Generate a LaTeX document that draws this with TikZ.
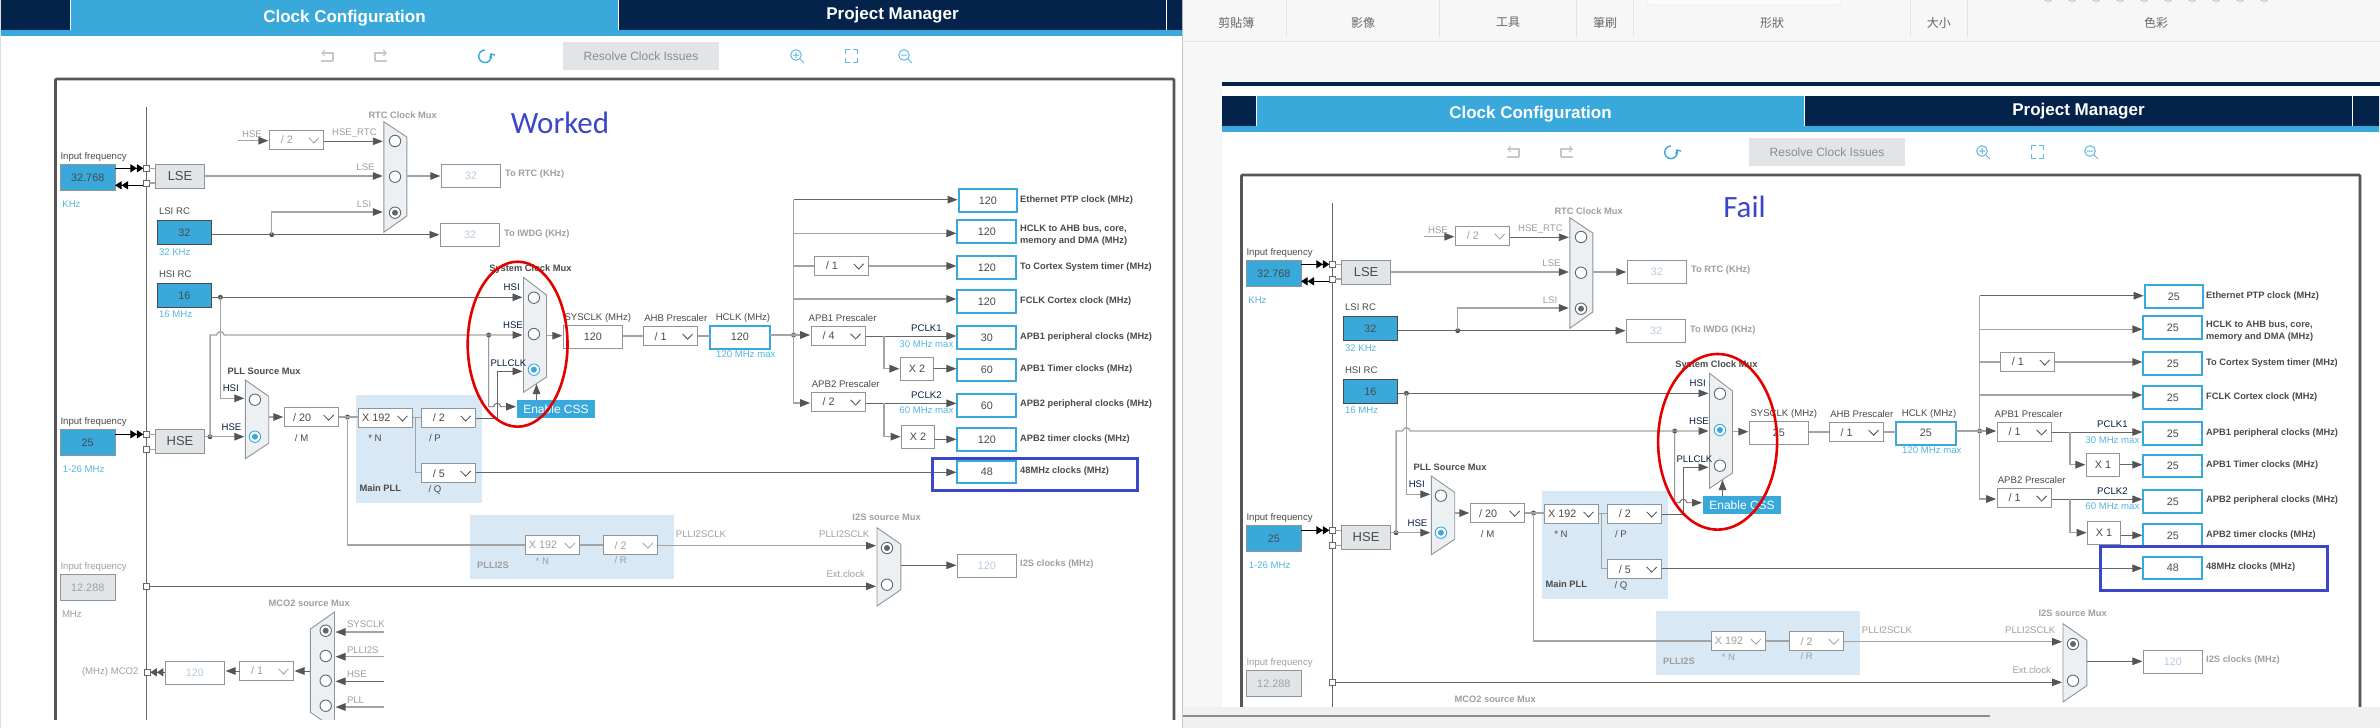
\documentclass[tikz,border=0pt]{standalone}
\usepackage{fontspec}
\setmainfont{Liberation Sans}
\newfontfamily\cjk{Noto Sans CJK TC}
\newfontfamily\carl{Carlito}
\usetikzlibrary{arrows.meta}
\definecolor{cB}{HTML}{39A9DB}
\definecolor{cN}{HTML}{03234B}
\definecolor{cW}{HTML}{666666}
\definecolor{cG}{HTML}{A3A3A3}
\definecolor{cA}{HTML}{555555}
\definecolor{cD}{HTML}{4A4A4A}
\definecolor{cT}{HTML}{9F9F9F}
\definecolor{cL}{HTML}{B5CCE0}
\definecolor{cQ}{HTML}{3B46C8}
\definecolor{cPl}{HTML}{D9E8F5}
\definecolor{cMx}{HTML}{ECF0F2}
\definecolor{cBr}{HTML}{8D9599}
\definecolor{cGb}{HTML}{E2E5E7}
\newcommand\fz[1]{\fontsize{#1}{#1}\selectfont}
\newif\ifmcoshown
\tikzset{
  every node/.style={inner sep=0pt,outer sep=0pt,font=\fz{9.6}},
  wire/.style={draw=cW,line width=0.9pt},
  wireg/.style={draw=cG,line width=1.3pt},
  arr/.style={wire,shorten >=1pt,-{Triangle[length=10pt,width=7.5pt,color=cA]}},
  arrg/.style={wireg,shorten >=1pt,-{Triangle[length=10pt,width=7.5pt,color=cA]}},
  dblk/.style={draw=black,line width=1pt,-{Triangle[length=6.5pt,width=8pt,color=black]Triangle[length=6.5pt,width=8pt,color=black]}},
  dbgr/.style={draw=cA,line width=1pt,-{Triangle[length=6.5pt,width=8pt,color=cA]Triangle[length=6.5pt,width=8pt,color=cA]}},
  lL/.style={anchor=west},
  dk/.style={text=cD},
  nv/.style={text=cN!85!black},
  gy/.style={text=cT},
  bl/.style={text=cB!85!white},
  bd/.style={font=\fz{9.3}\bfseries},
  bxg/.style={draw=cBr,fill=white,line width=0.9pt,font=\fz{10.8}},
  bxv/.style={draw=cB,fill=white,line width=2pt,font=\fz{10.8},text=cD},
  bxo/.style={draw=cBr,fill=white,line width=0.9pt,font=\fz{10.8},text=cL},
  bxin/.style={draw=#1,fill=cB,line width=1pt,font=\fz{10.8},text=cD},
  dotj/.style={circle,fill=cA,minimum size=5pt},
  sqp/.style={draw=cW,fill=white,line width=0.8pt,minimum size=6pt},
  rsel/.style={circle,draw=#1,fill=white,line width=0.9pt,minimum size=11.4pt}
}
\newcount\lblc
\newcommand\lbl[4]{\global\advance\lblc by 1 \node[#1] (lbl\the\lblc) at (#2,#3) {#4};}
\newcommand\bx[7]{\node[#1,minimum width={(#5-#3)*1pt},minimum height={(#6-#4)*1pt}] (#2) at ({(#3+#5)/2},{(#4+#6)/2}) {#7};}
% dropdown: text colour, name, x1,y1,x2,y2, text offset, text
\newcommand\dd[8]{\bx{bxg}{#2}{#3}{#4}{#5}{#6}{}
  \node[anchor=west,font=\fz{10.8},text=#1] (#2T) at ([xshift=#7]#2.west) {#8};
  \draw[draw=#1,line width=0.8pt] ([xshift=-15,yshift=2.2]#2.east) -- ([xshift=-10,yshift=-3]#2.east) -- ([xshift=-5,yshift=2.2]#2.east);}
\newcommand\hw[4][wire]{\draw[#1] (#2.east |- 0,#4) -- (#3.west |- 0,#4);}
% mux: name, xl, xr, y left top, y right top, y right bottom, y left bottom
\newcommand\muxn[7]{\node[minimum width={(#3-#2)*1pt},minimum height={(#7-#4)*1pt}] (#1) at ({(#2+#3)/2},{(#4+#7)/2}) {};
  \draw[draw=cBr,fill=cMx,line width=0.9pt] (#2,#4) -- (#3,#5) -- (#3,#6) -- (#2,#7) -- cycle;}
% radio: name,x,y,state
\newcommand\radio[4]{\ifnum#4=2
    \node[rsel=cB] (#1) at (#2,#3) {}; \fill[cB] (#1.center) circle (3);
  \else\ifnum#4=1
    \node[rsel=cW] (#1) at (#2,#3) {}; \fill[cW] (#1.center) circle (3);
  \else
    \node[rsel=cW] (#1) at (#2,#3) {};
  \fi\fi}
\newcommand\clockpanel[4]{%
\begin{scope}[shift={(\panx,\pany)}]
\clip (#2,0) rectangle (#3,#4);
% header
\bx{fill=cB}{#1strip}{1}{30}{1200}{36}{}
\bx{fill=cN}{#1navL}{1}{0}{70}{30}{}
\bx{fill=cB,text=white,font=\fz{17}\bfseries}{#1tabC}{71}{0}{618}{36}{\raisebox{3pt}{Clock Configuration}}
\bx{fill=cN,text=white,font=\fz{17}\bfseries}{#1tabP}{619}{0}{1166}{30}{\raisebox{-2pt}{Project Manager}}
\bx{fill=cN}{#1navR}{1167}{0}{1200}{30}{}
% toolbar
\draw[draw=black!22,line width=1.2pt,-{Straight Barb[length=3pt,width=6pt]}] (333,61) -- (333,53) -- (321,53);
\draw[draw=black!22,line width=1.2pt] (321,61) -- (333,61);
\draw[draw=black!22,line width=1.2pt,-{Straight Barb[length=3pt,width=6pt]}] (375,61) -- (375,53) -- (387,53);
\draw[draw=black!22,line width=1.2pt] (375,61) -- (387,61);
\draw[draw=cB,line width=1.4pt,-{Straight Barb[length=3pt,width=6pt]}] (485,50) arc (-90:-390:6.3);
\bx{fill=cGb,text=black!45,font=\fz{12}}{#1res}{563}{42}{719}{70}{Resolve Clock Issues}
\draw[draw=cB!80,line width=1pt] (796,55) circle (5.3) (800,59) -- (804,63) (793,55) -- (799,55) (796,52) -- (796,58);
\draw[draw=cB!80,line width=1pt] (850,49.5) -| (845,54) (853,49.5) -| (857,54) (845,58) |- (850,62.5) (857,58) |- (853,62.5);
\draw[draw=cB!80,line width=1pt] (904,55) circle (5.3) (908,59) -- (912,63) (901,55) -- (907,55);
% frame and bus
\draw[draw=cA,line width=2.6pt,rounded corners=1pt] (55.5,730) -- (55.5,79) -- (1174,79) -- (1174,730);
\coordinate (#1busT) at (146.3,107);
\coordinate (#1busB) at (146.3,730);
\draw[draw=cW,line width=0.8pt] (#1busT) -- (#1busB);
% PLL backgrounds
\bx{fill=cPl}{#1bgM}{356}{395}{482.2}{502.7}{}
\bx{fill=cPl}{#1bgI}{470}{515}{673.5}{579}{}
% inputs
\lbl{lL,dk}{60.5}{157}{Input frequency}
\bx{bxin=cBr}{#1in1}{60.5}{164}{115}{190.7}{32.768}
\lbl{lL,bl}{62.4}{203.7}{KHz}
\node[sqp] (#1sqa) at (146.4,168.3) {};
\node[sqp] (#1sqb) at (146.4,183) {};
\bx{draw=cBr,fill=cGb,line width=0.9pt,font=\fz{13},text=cD}{#1lse}{155.4}{164.3}{204.7}{188.3}{LSE}
\lbl{lL,dk}{159}{210.7}{LSI RC}
\bx{bxin=cD}{#1lsi}{157.3}{220.3}{211.6}{244.7}{32}
\lbl{lL,bl}{159}{251.7}{32 KHz}
\lbl{lL,dk}{159}{273.7}{HSI RC}
\bx{bxin=cD}{#1hsi}{157.3}{283.3}{211.6}{307.7}{16}
\lbl{lL,bl}{159}{313.7}{16 MHz}
\lbl{lL,dk}{60.5}{421.7}{Input frequency}
\bx{bxin=cBr}{#1in2}{60.5}{429.3}{115}{455.7}{25}
\lbl{lL,bl}{62.8}{468.7}{1-26 MHz}
\node[sqp] (#1sqc) at (146.4,434.3) {};
\node[sqp] (#1sqd) at (146.4,449.3) {};
\bx{draw=cBr,fill=cGb,line width=0.9pt,font=\fz{13},text=cD}{#1hse}{155.4}{429.3}{204.7}{453.3}{HSE}
\lbl{lL,gy}{60.5}{566.7}{Input frequency}
\bx{draw=cBr,fill=cGb,line width=0.9pt,font=\fz{10.8},text=cT}{#1in3}{60.5}{574.3}{115}{600.3}{12.288}
\node[sqp] (#1sqe) at (146.4,586.3) {};
% RTC mux
\lbl{gy,font=\fz{9.3}\bfseries}{402.6}{114.7}{RTC Clock Mux}
\muxn{#1rtc}{383.8}{406.8}{121.7}{137}{216}{232.3}
\radio{#1r1}{395}{141}{0}\radio{#1r2}{395}{176.7}{0}\radio{#1r3}{395}{212.7}{1}
\lbl{gy}{252}{133.7}{HSE}
\dd{cT}{#1d2}{269.4}{130.3}{323.8}{149.7}{11.5}{/ 2}
\lbl{gy}{354.4}{132.7}{HSE\_RTC}
\lbl{gy}{365.5}{167.3}{LSE}
\lbl{gy}{364}{204.3}{LSI}
\bx{bxo}{#1trtc}{441.3}{164.3}{500.6}{187.7}{32}
\lbl{lL,gy,font=\fz{9.3}\bfseries}{505}{173.7}{To RTC (KHz)}
\bx{bxo}{#1tiw}{440.5}{223.3}{499.8}{246.7}{32}
\lbl{lL,gy,font=\fz{9.3}\bfseries}{504}{233.7}{To IWDG (KHz)}
\node[dotj] (#1jl) at (271.7,234.7) {};
% system mux
\lbl{dk,font=\fz{9.3}\bfseries}{530.4}{268.7}{System Clock Mux}
\muxn{#1sys}{523.5}{546.5}{277.3}{295}{377}{392.3}
\radio{#1s1}{533.9}{297.7}{0}\radio{#1s2}{533.9}{334}{\sB}\radio{#1s3}{533.9}{369.7}{\sC}
\lbl{nv}{511.7}{287.3}{HSI}
\lbl{nv}{513}{324.7}{HSE}
\lbl{lL,nv}{490.5}{362.7}{PLLCLK}
\bx{fill=cB,text=white,font=\fz{12}}{#1css}{517}{400}{595}{417.7}{Enable CSS}
% PLL source mux
\lbl{dk,font=\fz{9.3}\bfseries}{264}{371.7}{PLL Source Mux}
\muxn{#1pll}{245.3}{268.7}{380}{396.3}{443.3}{458.7}
\radio{#1p1}{254.9}{399.7}{0}\radio{#1p2}{254.9}{436.7}{2}
\lbl{nv}{230.8}{388.3}{HSI}
\lbl{nv}{231.5}{427.3}{HSE}
\dd{cD}{#1d20}{284.3}{407.7}{338.7}{426.7}{8.8}{/ 20}
\lbl{dk}{301.6}{437.7}{/ M}
% main PLL
\dd{cD}{#1n}{358.6}{408.3}{412.5}{427.7}{3.5}{X 192}
\dd{cD}{#1dp}{421.4}{408.3}{475.7}{427.7}{11.5}{/ 2}
\dd{cD}{#1dq}{421.4}{463.7}{475.7}{482.7}{11.5}{/ 5}
\lbl{dk}{375}{437.7}{* N}
\lbl{dk}{435}{437.7}{/ P}
\lbl{dk}{435}{490.3}{/ Q}
\lbl{lL,dk,font=\fz{9.3}\bfseries}{359.7}{487.7}{Main PLL}
% PLLI2S
\dd{cT}{#1in}{525.4}{535.7}{579.8}{554.7}{3.5}{X 192}
\dd{cT}{#1ir}{603}{535.7}{657.8}{554.7}{11.5}{/ 2}
\lbl{gy}{542.3}{560.7}{* N}
\lbl{gy}{620.7}{559.7}{/ R}
\lbl{lL,gy,font=\fz{9.3}\bfseries}{477.2}{565.3}{PLLI2S}
\lbl{gy}{701}{534.3}{PLLI2SCLK}
\lbl{gy}{844.2}{534.3}{PLLI2SCLK}
\lbl{gy}{845.7}{573.7}{Ext.clock}
% I2S mux
\lbl{gy,font=\fz{9.3}\bfseries}{886.6}{517.7}{I2S source Mux}
\muxn{#1i2s}{877}{900.8}{527.7}{544.3}{589.7}{606}
\radio{#1i1}{887}{548}{1}\radio{#1i2}{887}{584.7}{0}
\bx{bxo}{#1ci2s}{957.4}{554.3}{1016.4}{577.3}{120}
\lbl{lL,gy,font=\fz{9.3}\bfseries}{1020.2}{563.7}{I2S clocks (MHz)}
% MCO2
\lbl{gy,font=\fz{9.3}\bfseries}{309.2}{603.7}{MCO2 source Mux}
\ifmcoshown
\lbl{lL,gy}{62}{613.7}{MHz}
\node[sqp] (#1sqf) at (147.3,672.3) {};
\muxn{#1mco}{310.4}{334.5}{629}{612}{729}{712.3}
\radio{#1m1}{325.7}{630.7}{1}\radio{#1m2}{325.7}{656}{0}\radio{#1m3}{325.7}{680.7}{0}\radio{#1m4}{325.7}{705.7}{0}
\lbl{lL,gy}{347}{623.7}{SYSCLK}
\lbl{lL,gy}{347}{649.7}{PLLI2S}
\lbl{lL,gy}{347}{673.7}{HSE}
\lbl{lL,gy}{347}{699.7}{PLL}
\dd{cT}{#1dm}{239.6}{661.7}{293.5}{680.3}{11.5}{/ 1}
\bx{bxo}{#1cm}{165.3}{661.3}{224.6}{684.3}{120}
\lbl{lL,gy}{82}{671.7}{(MHz) MCO2}
\coordinate (#1ms1) at (383.8,632);
\coordinate (#1ms2) at (383.8,656.7);
\coordinate (#1ms3) at (383.8,681.3);
\coordinate (#1ms4) at (383.8,707);
\draw[arrg] (#1ms1) -- (#1mco.east |- #1ms1);
\draw[arrg] (#1ms2) -- (#1mco.east |- #1ms2);
\draw[arr] (#1ms3) -- (#1mco.east |- #1ms3);
\draw[arrg] (#1ms4) -- (#1mco.east |- #1ms4);
\draw[arr] (#1mco.west |- 0,671) -- (#1dm.east |- 0,671);
\draw[arr] (#1dm.west |- 0,671) -- (#1cm.east |- 0,671);
\draw[dbgr] (#1cm.west |- #1sqf) -- (#1sqf.east);
\fi
% clock tree boxes
\lbl{lL,dk}{564.5}{317.7}{SYSCLK (MHz)}
\bx{bxg,text=cD}{#1sc}{563.3}{325.7}{622.6}{348.7}{\vSys}
\lbl{dk}{675.8}{317.7}{AHB Prescaler}
\dd{cD}{#1ahb}{643.2}{326.7}{697.6}{345.7}{11.5}{/ 1}
\lbl{dk}{743}{317.7}{HCLK (MHz)}
\bx{bxv}{#1hc}{710.2}{325.7}{769.5}{348.7}{\vHc}
\lbl{bl}{745.8}{353.7}{120 MHz max}
\node[dotj] (#1jc) at (793.6,335) {};
\lbl{dk}{842.6}{317.7}{APB1 Prescaler}
\dd{cD}{#1a1}{811.2}{326.3}{865.6}{345.7}{11.5}{\vAa}
\lbl{nv}{926.4}{327.7}{PCLK1}
\lbl{bl}{926.4}{343.7}{30 MHz max}
\lbl{dk}{845.7}{384.3}{APB2 Prescaler}
\dd{cD}{#1a2}{811.2}{392.3}{865.6}{411.7}{11.5}{/ \vAb}
\lbl{nv}{926.4}{395.3}{PCLK2}
\lbl{bl}{926.4}{409.7}{60 MHz max}
\bx{bxg,text=cD}{#1x1}{900.4}{357.3}{933.7}{380.3}{X \vXm}
\bx{bxg,text=cD}{#1x2}{901.6}{425.3}{934.5}{448.3}{X \vXm}
\dd{cD}{#1dc}{814.3}{256.3}{868.7}{275.7}{11.5}{/ 1}
\bx{bxv}{#1ce}{958.6}{189.3}{1017}{212.3}{\vCk}
\lbl{lL,dk,bd}{1020.2}{199.7}{Ethernet PTP clock (MHz)}
\bx{bxv}{#1ch}{957.4}{220.3}{1016.4}{243.3}{\vCk}
\lbl{lL,dk,bd}{1020.2}{228.7}{HCLK to AHB bus, core,}
\lbl{lL,dk,bd}{1020.2}{241.3}{memory and DMA (MHz)}
\bx{bxv}{#1cc}{957.4}{256.3}{1016.4}{279.3}{\vCk}
\lbl{lL,dk,bd}{1020.2}{266.7}{To Cortex System timer (MHz)}
\bx{bxv}{#1cf}{957.4}{290.3}{1016.4}{313.3}{\vCk}
\lbl{lL,dk,bd}{1020.2}{300.7}{FCLK Cortex clock (MHz)}
\bx{bxv}{#1p1c}{957.4}{326.3}{1016.4}{349.3}{\vPa}
\lbl{lL,dk,bd}{1020.2}{336.7}{APB1 peripheral clocks (MHz)}
\bx{bxv}{#1t1}{957.4}{358.7}{1016.4}{381.3}{\vTa}
\lbl{lL,dk,bd}{1020.2}{368.7}{APB1 Timer clocks (MHz)}
\bx{bxv}{#1p2c}{957.4}{394.3}{1016.4}{417.3}{\vPb}
\lbl{lL,dk,bd}{1020.2}{403.7}{APB2 peripheral clocks (MHz)}
\bx{bxv}{#1t2}{957.4}{428.3}{1016.4}{451.3}{\vTb}
\lbl{lL,dk,bd}{1020.2}{438.7}{APB2 timer clocks (MHz)}
\bx{bxv}{#1c48}{957.4}{460.7}{1016.4}{483.3}{48}
\lbl{lL,dk,bd}{1020.2}{470.7}{48MHz clocks (MHz)}
% connectors: inputs
\draw[dblk] (#1in1.east |- #1sqa) -- (#1sqa.west);
\draw[dblk] (#1sqb.west |- 0,185.3) -- (#1in1.east |- 0,185.3);
\draw[dblk] (#1in2.east |- #1sqc) -- (#1sqc.west);
\draw[wireg] (#1sqa.east) -- (#1lse.west |- #1sqa);
\draw[wireg] (#1sqb.east) -- (#1lse.west |- #1sqb);
\draw[wireg] (#1sqc.east) -- (#1hse.west |- #1sqc);
\draw[wireg] (#1sqd.east) -- (#1hse.west |- #1sqd);
% connectors: RTC
\coordinate (#1hsrtc) at (238.4,140.7);
\draw[arrg] (#1hsrtc) -- (#1d2.west |- #1hsrtc);
\hw[arr]{#1d2}{#1rtc}{141.3}
\hw[arrg]{#1lse}{#1rtc}{176}
\draw[arrg] (#1jl.center) |- (#1rtc.west |- 0,212);
\draw[arr] (#1lsi.east |- #1jl) -- (#1tiw.west |- #1jl);
\hw[arrg]{#1rtc}{#1trtc}{176}
% connectors: HSI / HSE
\node[dotj] (#1jh) at (220.4,297.3) {};
\node[dotj] (#1je) at (210.1,436.7) {};
\node[dotj] (#1js) at (488.7,335) {};
\hw[arr]{#1hsi}{#1sys}{297.3}
\draw[arrg] (#1hse.east |- #1je) -- (#1pll.west |- #1je);
\draw[arrg] (#1jh.center) |- (#1pll.west |- 0,398.3);
\coordinate (#1bra) at (216.5,335);
\coordinate (#1brb) at (224.3,335);
\draw[arrg] (#1je.center) |- (#1bra) .. controls (218,330.5) and (222.8,330.5) .. (#1brb) -- (#1sys.west |- #1brb);
\coordinate (#1bca) at (493.5,406.7);
\coordinate (#1bcb) at (501,406.7);
\draw[arr] (#1js.center) |- (#1bca) .. controls (495,402) and (499.5,402) .. (#1bcb) -- (#1css.west |- #1bcb);
\coordinate (#1pv) at (497.3,371.3);
\draw[arr] (#1dp.east |- 0,418) -| (#1pv) -- (#1sys.west |- #1pv);
\coordinate (#1cu) at (536.5,383);
\draw[arr] (#1cu |- #1css.north) -- (#1cu);
% connectors: PLL
\node[dotj] (#1jp) at (347.5,417) {};
\hw[arrg]{#1pll}{#1d20}{417}
\draw[wireg] (#1d20.east |- #1jp) -- (#1n.west |- #1jp);
\draw[wireg] (#1jp.center) |- (#1in.west |- 0,545);
\hw[wireg]{#1n}{#1dp}{417.5}
\coordinate (#1pb) at (415.6,417.5);
\draw[wireg] (#1pb) |- (#1dq.west |- 0,472.3);
\hw[arr]{#1dq}{#1c48}{472.3}
\hw[wireg]{#1in}{#1ir}{545}
\hw[arrg]{#1ir}{#1i2s}{545.7}
\hw[arr]{#1sqe}{#1i2s}{586.3}
\hw[arr]{#1i2s}{#1ci2s}{565.3}
% connectors: clock tree
\hw[arrg]{#1sys}{#1sc}{335.7}
\hw[wireg]{#1sc}{#1ahb}{336}
\hw[wireg]{#1ahb}{#1hc}{336}
\draw[wireg] (#1hc.east |- #1jc) -- (#1jc.center);
\draw[arrg] (#1jc.center) -- (#1a1.west |- #1jc);
\coordinate (#1vt) at (793.6,199.7);
\draw[arr] (#1vt) -- (#1ce.west |- #1vt);
\draw[wireg] (#1vt) -- (#1jc.center);
\draw[arrg] (#1jc.center) |- (#1a2.west |- 0,403);
\draw[arrg] (#1jc |- 0,233.3) -- (#1ch.west |- 0,233.3);
\draw[wireg] (#1jc |- 0,266) -- (#1dc.west |- 0,266);
\hw[arrg]{#1dc}{#1cc}{266}
\draw[arrg] (#1jc |- 0,299) -- (#1cf.west |- 0,299);
\hw[arr]{#1a1}{#1p1c}{336}
\coordinate (#1ba) at (884,336);
\draw[arrg] (#1ba) |- (#1x1.west |- 0,368.7);
\hw[arr]{#1x1}{#1t1}{368.7}
\hw[arr]{#1a2}{#1p2c}{403.3}
\coordinate (#1bb) at (884,403.3);
\draw[arrg] (#1bb) |- (#1x2.west |- 0,436.7);
\hw[arr]{#1x2}{#1t2}{439.3}
\end{scope}}
\begin{document}
\begin{tikzpicture}[x=1pt,y=-1pt]
\useasboundingbox (0,0) rectangle (2380,728);
\fill[white] (0,0) rectangle (2380,728);
\fill[black!12] (0,0) rectangle (1,728);
% right window: paint ribbon and page
\fill[black!3] (1182,0) rectangle (2380,728);
\draw[draw=black!22,line width=0.8pt] (1182,0) -- (1182,728);
\draw[draw=black!10,line width=0.8pt] (1182,41) -- (2380,41);
\foreach \sx in {1286.5,1439.6,1576.6,1633.6,1910.5,1967.5}{\draw[draw=black!10,line width=0.7pt] (\sx,0) -- (\sx,36.7);}
\draw[draw=black!8,fill=black!1,rounded corners=3pt,line width=0.7pt] (1647,-8) rectangle (1841,5);
\foreach \i in {0,...,9}{\draw[draw=black!30,line width=0.7pt] ({2048+24*\i},-3) circle (4.5);}
\foreach \tx/\tn/\tt in {1236.4/a/剪貼簿,1363/b/影像,1508/c/工具,1605/d/筆刷,1772/e/形狀,1938.8/f/大小,2156/g/色彩}{\node[text=black!60,font=\fz{12}\cjk] (rib\tn) at (\tx,22.7) {\tt};}
\fill[cN] (1222,82) rectangle (2380,86);
\fill[white] (1222,86) rectangle (2380,707);
% left panel
\def\panx{0}\def\pany{0}\mcoshowntrue
\def\sB{0}\def\sC{2}\def\vSys{120}\def\vHc{120}\def\vAa{/ 4}\def\vAb{2}\def\vXm{2}\def\vCk{120}\def\vPa{30}\def\vTa{60}\def\vPb{60}\def\vTb{120}
\clockpanel{L}{1}{1182}{719}
% right panel
\def\panx{1186}\def\pany{96}\mcoshownfalse
\def\sB{2}\def\sC{0}\def\vSys{25}\def\vHc{25}\def\vAa{/ 1}\def\vAb{1}\def\vXm{1}\def\vCk{25}\def\vPa{25}\def\vTa{25}\def\vPb{25}\def\vTb{25}
\clockpanel{R}{36}{1193}{611}
% bottom scroll area of the right window
\fill[black!6] (1183,707) rectangle (2380,728);
\fill[black!45] (1183,714.7) rectangle (1990,716.7);
% annotations
\node[text=cQ,font=\fz{31}\carl] (worked) at (560,122.7) {Worked};
\node[text=cQ,font=\fz{31}\carl] (fail) at (1744.5,207.3) {Fail};
\draw[draw=red!90!black,line width=2.6pt] (517.6,344.2) ellipse (49.9 and 82.5);
\draw[draw=red!90!black,line width=2.6pt] (1717.6,441.8) ellipse (59.5 and 87.8);
\draw[draw=cQ,line width=3pt] (932.2,458) rectangle (1137,490.7);
\draw[draw=cQ,line width=3pt] (2100,546.7) rectangle (2327,590);
\end{tikzpicture}
\end{document}
